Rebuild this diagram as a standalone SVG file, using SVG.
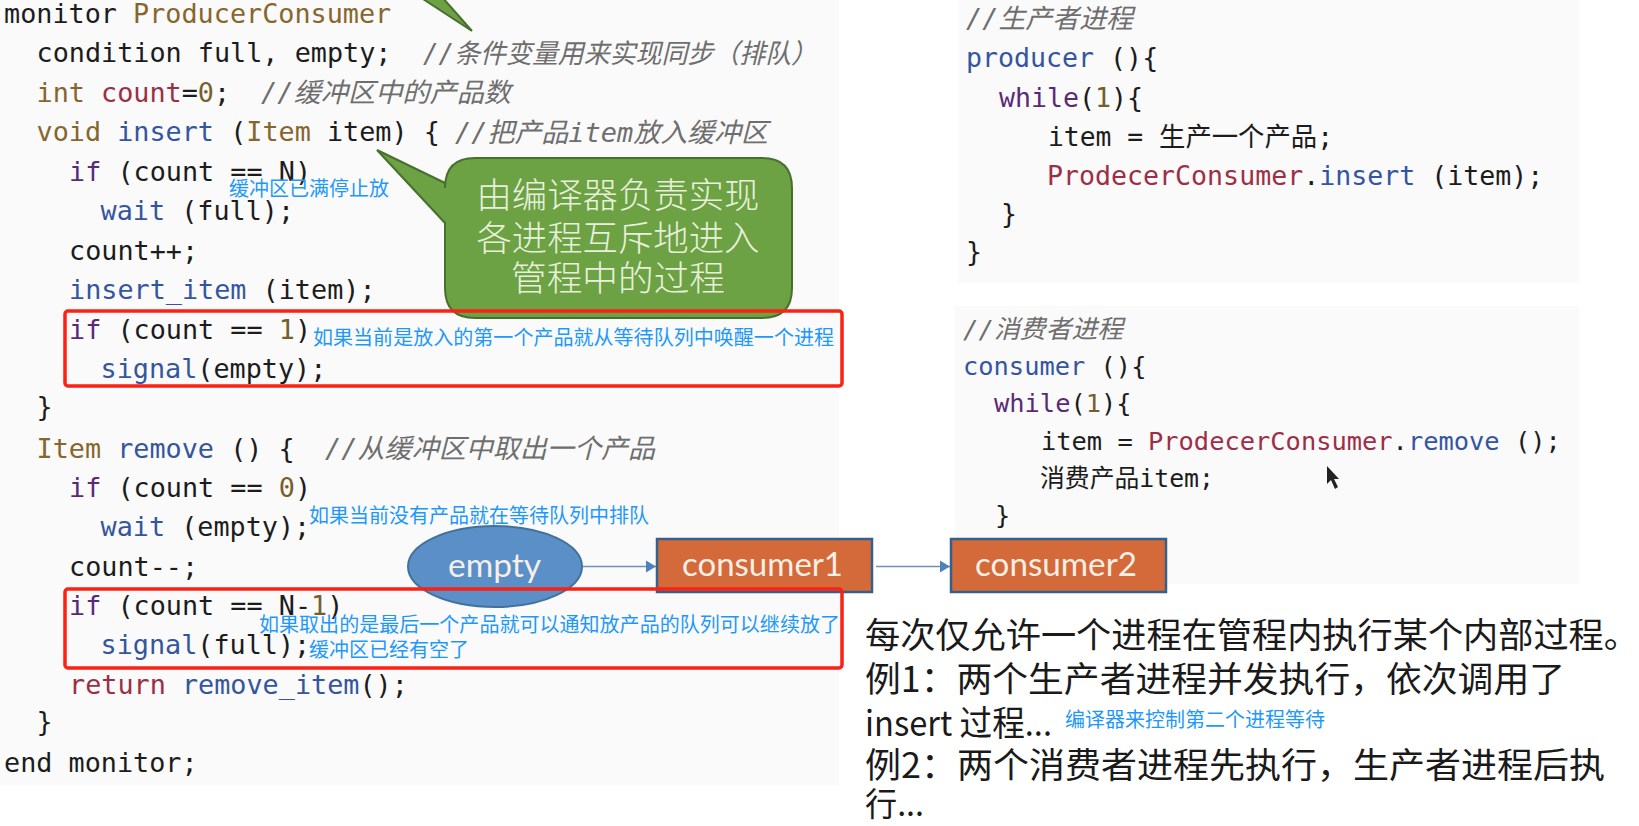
<svg xmlns="http://www.w3.org/2000/svg" width="1639" height="826" viewBox="0 0 1639 826">
<style>
.code{font-family:"DejaVu Sans Mono","Noto Sans CJK SC",monospace;font-size:26.8px;fill:#1c1c1c}
.r1{font-size:26.6px}
.r2{font-size:25.4px}
.cm{font-style:italic;fill:#6e6e6e}
.fn{fill:#34559f}
.ty{fill:#86662c}
.kw{fill:#5b2a76}
.re{fill:#9c2f45}
.nu{fill:#75602c}
.note{font-family:"Noto Sans CJK SC",sans-serif;font-size:20px;fill:#1e98fb}
.body{font-family:"Noto Sans CJK SC",sans-serif;font-size:35px;font-weight:400;fill:#1a1a1a}
.last{font-size:33px}
.lbl{font-family:"Lato","Noto Sans",sans-serif;font-size:33px;fill:#f6efe6}
.call{font-family:"Noto Sans CJK SC",sans-serif;font-size:35px;font-weight:300;fill:#e8f0dc;text-anchor:middle}
.box{fill:#d4693a;stroke:#36608c;stroke-width:2.5}
.red{fill:none;stroke:#fb2114;stroke-width:3.5}
.green{fill:#6ca244;stroke:#47702e;stroke-width:2}
.link{stroke:#6f93b8;stroke-width:1.6;fill:none;marker-end:url(#arr)}
</style>
<defs>
<marker id="arr" markerUnits="userSpaceOnUse" markerWidth="11" markerHeight="14" refX="10" refY="7" orient="auto"><path d="M0 1L10 7L0 13Z" fill="#4f81bd"/></marker>
</defs>
<rect width="1639" height="826" fill="#fff"/>
<g id="panels">
<rect x="0" y="0" width="839" height="785" fill="#fafafa"/>
<rect x="958" y="0" width="621" height="283" fill="#fafafa"/>
<rect x="955" y="306" width="624" height="278" fill="#fafafa"/>
</g>
<g id="monitor-code">
<text class="code" x="4" y="23">monitor <tspan class="ty">ProducerConsumer</tspan></text>
<text class="code" x="36.500" y="62">condition full, empty;</text>
<text class="code cm" x="423" y="63" textLength="394" lengthAdjust="spacingAndGlyphs">//条件变量用来实现同步（排队）</text>
<text class="code" x="36.500" y="101.500"><tspan class="ty">int</tspan> <tspan class="re">count</tspan>=<tspan class="nu">0</tspan>;</text>
<text class="code cm" x="261" y="102" textLength="250" lengthAdjust="spacingAndGlyphs">//缓冲区中的产品数</text>
<text class="code" x="36.500" y="141"><tspan class="ty">void</tspan> <tspan class="fn">insert</tspan> (<tspan class="ty">Item</tspan> item) {</text>
<text class="code cm" x="455" y="141.500" textLength="313" lengthAdjust="spacingAndGlyphs">//把产品item放入缓冲区</text>
<text class="code" x="69" y="181"><tspan class="kw">if</tspan> (count == N)</text>
<text class="code" x="100.500" y="220"><tspan class="fn">wait</tspan> (full);</text>
<text class="code" x="69" y="260">count++;</text>
<text class="code" x="69" y="299"><tspan class="fn">insert_item</tspan> (item);</text>
<text class="code" x="69" y="339"><tspan class="kw">if</tspan> (count == <tspan class="nu">1</tspan>)</text>
<text class="code" x="100.500" y="378"><tspan class="fn">signal</tspan>(empty);</text>
<text class="code" x="36.500" y="416">}</text>
<text class="code" x="36.500" y="458"><tspan class="ty">Item</tspan> <tspan class="fn">remove</tspan> () {</text>
<text class="code cm" x="325" y="458" textLength="330" lengthAdjust="spacingAndGlyphs">//从缓冲区中取出一个产品</text>
<text class="code" x="69" y="497"><tspan class="kw">if</tspan> (count == <tspan class="nu">0</tspan>)</text>
<text class="code" x="100.500" y="536"><tspan class="fn">wait</tspan> (empty);</text>
<text class="code" x="69" y="576">count--;</text>
<text class="code" x="69" y="615"><tspan class="kw">if</tspan> (count == N-<tspan class="nu">1</tspan>)</text>
<text class="code" x="100.500" y="654"><tspan class="fn">signal</tspan>(full);</text>
<text class="code" x="69" y="694"><tspan class="re">return</tspan> <tspan class="fn">remove_item</tspan>();</text>
<text class="code" x="36.500" y="731">}</text>
<text class="code" x="4" y="772">end monitor;</text>
</g>
<g id="producer-code">
<text class="code r1 cm" x="966" y="28" textLength="167" lengthAdjust="spacingAndGlyphs">//生产者进程</text>
<text class="code r1" x="966" y="67"><tspan class="fn">producer</tspan> (){</text>
<text class="code r1" x="999" y="107"><tspan class="kw">while</tspan>(<tspan class="nu">1</tspan>){</text>
<text class="code r1" x="1048" y="146" textLength="285" lengthAdjust="spacingAndGlyphs">item = 生产一个产品;</text>
<text class="code r1" x="1047" y="185"><tspan class="re">ProdecerConsumer</tspan>.<tspan class="fn">insert</tspan> (item);</text>
<text class="code r1" x="1001" y="223">}</text>
<text class="code r1" x="966" y="261">}</text>
</g>
<g id="consumer-code">
<text class="code r2 cm" x="963" y="338" textLength="160" lengthAdjust="spacingAndGlyphs">//消费者进程</text>
<text class="code r2" x="963" y="375"><tspan class="fn">consumer</tspan> (){</text>
<text class="code r2" x="994" y="412"><tspan class="kw">while</tspan>(<tspan class="nu">1</tspan>){</text>
<text class="code r2" x="1041" y="450">item = <tspan class="re">ProdecerConsumer</tspan>.<tspan class="fn">remove</tspan> ();</text>
<text class="code r2" x="1040" y="487" textLength="174" lengthAdjust="spacingAndGlyphs">消费产品item;</text>
<text class="code r2" x="995" y="524">}</text>
</g>
<path id="cursor" d="M1327 466L1327 484L1331 480L1335 489L1338 487L1334 479L1339 479Z" fill="#222"/>
<g id="callout-top">
<path class="green" d="M420 -3L472 31L442 -3Z"/>
</g>
<g id="callout">
<path class="green" d="M475 158H762Q792 158 792 188V288Q792 318 762 318H475Q445 318 445 288V223L377 150L445 183V188Q445 158 475 158Z"/>
<text class="call" x="618" y="208" textLength="283" lengthAdjust="spacingAndGlyphs">由编译器负责实现</text>
<text class="call" x="618" y="251" textLength="283" lengthAdjust="spacingAndGlyphs">各进程互斥地进入</text>
<text class="call" x="618" y="291" textLength="214" lengthAdjust="spacingAndGlyphs">管程中的过程</text>
</g>
<g id="connectors">
<path class="link" d="M582 566.500H656"/>
<path class="link" d="M876 566.500H950"/>
</g>
<g id="empty">
<ellipse cx="495" cy="566.500" rx="87" ry="40.500" fill="#5b8fc7" stroke="#41719f" stroke-width="2"/>
<text class="lbl" x="448" y="577" textLength="93" lengthAdjust="spacingAndGlyphs">empty</text>
</g>
<g id="consumer1">
<rect class="box" x="657" y="539" width="215" height="53"/>
<text class="lbl" x="682" y="576" textLength="161" lengthAdjust="spacingAndGlyphs">consumer1</text>
</g>
<g id="consumer2">
<rect class="box" x="951" y="539" width="215" height="53"/>
<text class="lbl" x="975" y="576" textLength="162" lengthAdjust="spacingAndGlyphs">consumer2</text>
</g>
<g id="highlights">
<rect class="red" x="65" y="311" width="777" height="75" rx="3"/>
<rect class="red" x="65" y="589" width="777" height="79" rx="3"/>
</g>
<g id="notes">
<text class="note" x="229" y="196" textLength="160" lengthAdjust="spacingAndGlyphs">缓冲区已满停止放</text>
<text class="note" x="313" y="345" textLength="521" lengthAdjust="spacingAndGlyphs">如果当前是放入的第一个产品就从等待队列中唤醒一个进程</text>
<text class="note" x="309" y="523" textLength="340" lengthAdjust="spacingAndGlyphs">如果当前没有产品就在等待队列中排队</text>
<text class="note" x="259" y="632" textLength="581" lengthAdjust="spacingAndGlyphs">如果取出的是最后一个产品就可以通知放产品的队列可以继续放了</text>
<text class="note" x="309" y="657" textLength="160" lengthAdjust="spacingAndGlyphs">缓冲区已经有空了</text>
<text class="note" x="1065" y="727" textLength="260" lengthAdjust="spacingAndGlyphs">编译器来控制第二个进程等待</text>
</g>
<g id="explanation">
<text class="body" x="865" y="648" textLength="774" lengthAdjust="spacingAndGlyphs">每次仅允许一个进程在管程内执行某个内部过程。</text>
<text class="body" x="865" y="692" textLength="700" lengthAdjust="spacingAndGlyphs">例1：两个生产者进程并发执行，依次调用了</text>
<text class="body" x="865" y="736" textLength="187" lengthAdjust="spacingAndGlyphs">insert 过程...</text>
<text class="body" x="865" y="778" textLength="740" lengthAdjust="spacingAndGlyphs">例2：两个消费者进程先执行，生产者进程后执</text>
<text class="body last" x="865" y="816" textLength="59" lengthAdjust="spacingAndGlyphs">行...</text>
</g>
</svg>
